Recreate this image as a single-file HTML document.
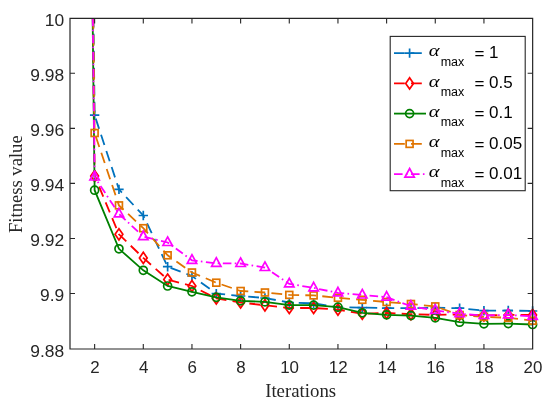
<!DOCTYPE html>
<html><head><meta charset="utf-8"><style>
html,body{margin:0;padding:0;background:#fff;}
svg{display:block;}
</style></head><body>
<svg width="550" height="412" viewBox="0 0 550 412">
<rect width="550" height="412" fill="#fff"/>
<defs><clipPath id="ax"><rect x="70.3" y="18.2" width="462.3" height="330.40000000000003"/></clipPath></defs>
<polyline points="70.30,-1909.13 94.63,115.20 118.96,189.40 143.29,215.50 167.63,266.70 191.96,276.00 216.29,293.60 240.62,296.00 264.95,298.00 289.28,302.50 313.62,303.40 337.95,307.20 362.28,307.60 386.61,308.10 410.94,308.20 435.27,307.70 459.61,308.20 483.94,310.70 508.27,310.50 532.60,311.00" stroke="#0072BD" stroke-width="1.8" fill="none" stroke-dasharray="10.8 6.2" stroke-dashoffset="11.92" clip-path="url(#ax)"/>
<path d="M89.93 115.20H99.33M94.63 110.50V119.90" stroke="#0072BD" stroke-width="1.7" fill="none"/>
<path d="M114.26 189.40H123.66M118.96 184.70V194.10" stroke="#0072BD" stroke-width="1.7" fill="none"/>
<path d="M138.59 215.50H147.99M143.29 210.80V220.20" stroke="#0072BD" stroke-width="1.7" fill="none"/>
<path d="M162.93 266.70H172.33M167.63 262.00V271.40" stroke="#0072BD" stroke-width="1.7" fill="none"/>
<path d="M187.26 276.00H196.66M191.96 271.30V280.70" stroke="#0072BD" stroke-width="1.7" fill="none"/>
<path d="M211.59 293.60H220.99M216.29 288.90V298.30" stroke="#0072BD" stroke-width="1.7" fill="none"/>
<path d="M235.92 296.00H245.32M240.62 291.30V300.70" stroke="#0072BD" stroke-width="1.7" fill="none"/>
<path d="M260.25 298.00H269.65M264.95 293.30V302.70" stroke="#0072BD" stroke-width="1.7" fill="none"/>
<path d="M284.58 302.50H293.98M289.28 297.80V307.20" stroke="#0072BD" stroke-width="1.7" fill="none"/>
<path d="M308.92 303.40H318.32M313.62 298.70V308.10" stroke="#0072BD" stroke-width="1.7" fill="none"/>
<path d="M333.25 307.20H342.65M337.95 302.50V311.90" stroke="#0072BD" stroke-width="1.7" fill="none"/>
<path d="M357.58 307.60H366.98M362.28 302.90V312.30" stroke="#0072BD" stroke-width="1.7" fill="none"/>
<path d="M381.91 308.10H391.31M386.61 303.40V312.80" stroke="#0072BD" stroke-width="1.7" fill="none"/>
<path d="M406.24 308.20H415.64M410.94 303.50V312.90" stroke="#0072BD" stroke-width="1.7" fill="none"/>
<path d="M430.57 307.70H439.97M435.27 303.00V312.40" stroke="#0072BD" stroke-width="1.7" fill="none"/>
<path d="M454.91 308.20H464.31M459.61 303.50V312.90" stroke="#0072BD" stroke-width="1.7" fill="none"/>
<path d="M479.24 310.70H488.64M483.94 306.00V315.40" stroke="#0072BD" stroke-width="1.7" fill="none"/>
<path d="M503.57 310.50H512.97M508.27 305.80V315.20" stroke="#0072BD" stroke-width="1.7" fill="none"/>
<path d="M527.90 311.00H537.30M532.60 306.30V315.70" stroke="#0072BD" stroke-width="1.7" fill="none"/>
<polyline points="70.30,-1909.13 94.63,176.00 118.96,234.30 143.29,257.90 167.63,279.50 191.96,286.00 216.29,298.50 240.62,302.50 264.95,305.30 289.28,308.00 313.62,308.00 337.95,309.60 362.28,313.70 386.61,313.00 410.94,314.20 435.27,314.90 459.61,314.50 483.94,315.40 508.27,314.90 532.60,314.90" stroke="#FF0000" stroke-width="1.8" fill="none" stroke-dasharray="10.8 6.2" stroke-dashoffset="11.12" clip-path="url(#ax)"/>
<path d="M94.63 170.40L98.53 176.00L94.63 181.60L90.73 176.00Z" stroke="#FF0000" stroke-width="1.7" fill="none"/>
<path d="M118.96 228.70L122.86 234.30L118.96 239.90L115.06 234.30Z" stroke="#FF0000" stroke-width="1.7" fill="none"/>
<path d="M143.29 252.30L147.19 257.90L143.29 263.50L139.39 257.90Z" stroke="#FF0000" stroke-width="1.7" fill="none"/>
<path d="M167.63 273.90L171.53 279.50L167.63 285.10L163.73 279.50Z" stroke="#FF0000" stroke-width="1.7" fill="none"/>
<path d="M191.96 280.40L195.86 286.00L191.96 291.60L188.06 286.00Z" stroke="#FF0000" stroke-width="1.7" fill="none"/>
<path d="M216.29 292.90L220.19 298.50L216.29 304.10L212.39 298.50Z" stroke="#FF0000" stroke-width="1.7" fill="none"/>
<path d="M240.62 296.90L244.52 302.50L240.62 308.10L236.72 302.50Z" stroke="#FF0000" stroke-width="1.7" fill="none"/>
<path d="M264.95 299.70L268.85 305.30L264.95 310.90L261.05 305.30Z" stroke="#FF0000" stroke-width="1.7" fill="none"/>
<path d="M289.28 302.40L293.18 308.00L289.28 313.60L285.38 308.00Z" stroke="#FF0000" stroke-width="1.7" fill="none"/>
<path d="M313.62 302.40L317.52 308.00L313.62 313.60L309.72 308.00Z" stroke="#FF0000" stroke-width="1.7" fill="none"/>
<path d="M337.95 304.00L341.85 309.60L337.95 315.20L334.05 309.60Z" stroke="#FF0000" stroke-width="1.7" fill="none"/>
<path d="M362.28 308.10L366.18 313.70L362.28 319.30L358.38 313.70Z" stroke="#FF0000" stroke-width="1.7" fill="none"/>
<path d="M386.61 307.40L390.51 313.00L386.61 318.60L382.71 313.00Z" stroke="#FF0000" stroke-width="1.7" fill="none"/>
<path d="M410.94 308.60L414.84 314.20L410.94 319.80L407.04 314.20Z" stroke="#FF0000" stroke-width="1.7" fill="none"/>
<path d="M435.27 309.30L439.17 314.90L435.27 320.50L431.37 314.90Z" stroke="#FF0000" stroke-width="1.7" fill="none"/>
<path d="M459.61 308.90L463.51 314.50L459.61 320.10L455.71 314.50Z" stroke="#FF0000" stroke-width="1.7" fill="none"/>
<path d="M483.94 309.80L487.84 315.40L483.94 321.00L480.04 315.40Z" stroke="#FF0000" stroke-width="1.7" fill="none"/>
<path d="M508.27 309.30L512.17 314.90L508.27 320.50L504.37 314.90Z" stroke="#FF0000" stroke-width="1.7" fill="none"/>
<path d="M532.60 309.30L536.50 314.90L532.60 320.50L528.70 314.90Z" stroke="#FF0000" stroke-width="1.7" fill="none"/>
<polyline points="70.30,-1909.13 94.63,190.20 118.96,248.80 143.29,270.30 167.63,286.00 191.96,291.80 216.29,297.30 240.62,300.80 264.95,301.90 289.28,305.10 313.62,305.10 337.95,307.20 362.28,312.80 386.61,314.80 410.94,315.60 435.27,317.80 459.61,322.20 483.94,323.80 508.27,323.60 532.60,324.50" stroke="#008000" stroke-width="1.8" fill="none" clip-path="url(#ax)"/>
<circle cx="94.63" cy="190.20" r="4.0" stroke="#008000" stroke-width="1.7" fill="none"/>
<circle cx="118.96" cy="248.80" r="4.0" stroke="#008000" stroke-width="1.7" fill="none"/>
<circle cx="143.29" cy="270.30" r="4.0" stroke="#008000" stroke-width="1.7" fill="none"/>
<circle cx="167.63" cy="286.00" r="4.0" stroke="#008000" stroke-width="1.7" fill="none"/>
<circle cx="191.96" cy="291.80" r="4.0" stroke="#008000" stroke-width="1.7" fill="none"/>
<circle cx="216.29" cy="297.30" r="4.0" stroke="#008000" stroke-width="1.7" fill="none"/>
<circle cx="240.62" cy="300.80" r="4.0" stroke="#008000" stroke-width="1.7" fill="none"/>
<circle cx="264.95" cy="301.90" r="4.0" stroke="#008000" stroke-width="1.7" fill="none"/>
<circle cx="289.28" cy="305.10" r="4.0" stroke="#008000" stroke-width="1.7" fill="none"/>
<circle cx="313.62" cy="305.10" r="4.0" stroke="#008000" stroke-width="1.7" fill="none"/>
<circle cx="337.95" cy="307.20" r="4.0" stroke="#008000" stroke-width="1.7" fill="none"/>
<circle cx="362.28" cy="312.80" r="4.0" stroke="#008000" stroke-width="1.7" fill="none"/>
<circle cx="386.61" cy="314.80" r="4.0" stroke="#008000" stroke-width="1.7" fill="none"/>
<circle cx="410.94" cy="315.60" r="4.0" stroke="#008000" stroke-width="1.7" fill="none"/>
<circle cx="435.27" cy="317.80" r="4.0" stroke="#008000" stroke-width="1.7" fill="none"/>
<circle cx="459.61" cy="322.20" r="4.0" stroke="#008000" stroke-width="1.7" fill="none"/>
<circle cx="483.94" cy="323.80" r="4.0" stroke="#008000" stroke-width="1.7" fill="none"/>
<circle cx="508.27" cy="323.60" r="4.0" stroke="#008000" stroke-width="1.7" fill="none"/>
<circle cx="532.60" cy="324.50" r="4.0" stroke="#008000" stroke-width="1.7" fill="none"/>
<polyline points="70.30,-1909.13 94.63,133.00 118.96,205.40 143.29,228.20 167.63,255.30 191.96,272.50 216.29,282.70 240.62,291.00 264.95,292.50 289.28,294.90 313.62,295.40 337.95,297.80 362.28,299.80 386.61,302.00 410.94,304.00 435.27,306.40 459.61,315.00 483.94,316.80 508.27,317.80 532.60,320.70" stroke="#E07400" stroke-width="1.8" fill="none" stroke-dasharray="10.8 6.2" stroke-dashoffset="10.82" clip-path="url(#ax)"/>
<rect x="91.18" y="129.55" width="6.90" height="6.90" stroke="#E07400" stroke-width="1.7" fill="none"/>
<rect x="115.51" y="201.95" width="6.90" height="6.90" stroke="#E07400" stroke-width="1.7" fill="none"/>
<rect x="139.84" y="224.75" width="6.90" height="6.90" stroke="#E07400" stroke-width="1.7" fill="none"/>
<rect x="164.18" y="251.85" width="6.90" height="6.90" stroke="#E07400" stroke-width="1.7" fill="none"/>
<rect x="188.51" y="269.05" width="6.90" height="6.90" stroke="#E07400" stroke-width="1.7" fill="none"/>
<rect x="212.84" y="279.25" width="6.90" height="6.90" stroke="#E07400" stroke-width="1.7" fill="none"/>
<rect x="237.17" y="287.55" width="6.90" height="6.90" stroke="#E07400" stroke-width="1.7" fill="none"/>
<rect x="261.50" y="289.05" width="6.90" height="6.90" stroke="#E07400" stroke-width="1.7" fill="none"/>
<rect x="285.83" y="291.45" width="6.90" height="6.90" stroke="#E07400" stroke-width="1.7" fill="none"/>
<rect x="310.17" y="291.95" width="6.90" height="6.90" stroke="#E07400" stroke-width="1.7" fill="none"/>
<rect x="334.50" y="294.35" width="6.90" height="6.90" stroke="#E07400" stroke-width="1.7" fill="none"/>
<rect x="358.83" y="296.35" width="6.90" height="6.90" stroke="#E07400" stroke-width="1.7" fill="none"/>
<rect x="383.16" y="298.55" width="6.90" height="6.90" stroke="#E07400" stroke-width="1.7" fill="none"/>
<rect x="407.49" y="300.55" width="6.90" height="6.90" stroke="#E07400" stroke-width="1.7" fill="none"/>
<rect x="431.82" y="302.95" width="6.90" height="6.90" stroke="#E07400" stroke-width="1.7" fill="none"/>
<rect x="456.16" y="311.55" width="6.90" height="6.90" stroke="#E07400" stroke-width="1.7" fill="none"/>
<rect x="480.49" y="313.35" width="6.90" height="6.90" stroke="#E07400" stroke-width="1.7" fill="none"/>
<rect x="504.82" y="314.35" width="6.90" height="6.90" stroke="#E07400" stroke-width="1.7" fill="none"/>
<rect x="529.15" y="317.25" width="6.90" height="6.90" stroke="#E07400" stroke-width="1.7" fill="none"/>
<polyline points="70.30,-1909.13 94.63,177.00 118.96,213.90 143.29,236.60 167.63,242.50 191.96,260.30 216.29,263.30 240.62,263.50 264.95,267.50 289.28,283.90 313.62,287.90 337.95,292.90 362.28,295.00 386.61,297.20 410.94,306.20 435.27,310.40 459.61,313.70 483.94,315.50 508.27,314.90 532.60,316.40" stroke="#FF00FF" stroke-width="1.8" fill="none" stroke-dasharray="8.6 3.3 1.6 3.5" stroke-dashoffset="11.02" clip-path="url(#ax)"/>
<path d="M94.63 171.40L99.33 180.00L89.93 180.00Z" stroke="#FF00FF" stroke-width="1.7" fill="none" stroke-linejoin="miter"/>
<path d="M118.96 208.30L123.66 216.90L114.26 216.90Z" stroke="#FF00FF" stroke-width="1.7" fill="none" stroke-linejoin="miter"/>
<path d="M143.29 231.00L147.99 239.60L138.59 239.60Z" stroke="#FF00FF" stroke-width="1.7" fill="none" stroke-linejoin="miter"/>
<path d="M167.63 236.90L172.33 245.50L162.93 245.50Z" stroke="#FF00FF" stroke-width="1.7" fill="none" stroke-linejoin="miter"/>
<path d="M191.96 254.70L196.66 263.30L187.26 263.30Z" stroke="#FF00FF" stroke-width="1.7" fill="none" stroke-linejoin="miter"/>
<path d="M216.29 257.70L220.99 266.30L211.59 266.30Z" stroke="#FF00FF" stroke-width="1.7" fill="none" stroke-linejoin="miter"/>
<path d="M240.62 257.90L245.32 266.50L235.92 266.50Z" stroke="#FF00FF" stroke-width="1.7" fill="none" stroke-linejoin="miter"/>
<path d="M264.95 261.90L269.65 270.50L260.25 270.50Z" stroke="#FF00FF" stroke-width="1.7" fill="none" stroke-linejoin="miter"/>
<path d="M289.28 278.30L293.98 286.90L284.58 286.90Z" stroke="#FF00FF" stroke-width="1.7" fill="none" stroke-linejoin="miter"/>
<path d="M313.62 282.30L318.32 290.90L308.92 290.90Z" stroke="#FF00FF" stroke-width="1.7" fill="none" stroke-linejoin="miter"/>
<path d="M337.95 287.30L342.65 295.90L333.25 295.90Z" stroke="#FF00FF" stroke-width="1.7" fill="none" stroke-linejoin="miter"/>
<path d="M362.28 289.40L366.98 298.00L357.58 298.00Z" stroke="#FF00FF" stroke-width="1.7" fill="none" stroke-linejoin="miter"/>
<path d="M386.61 291.60L391.31 300.20L381.91 300.20Z" stroke="#FF00FF" stroke-width="1.7" fill="none" stroke-linejoin="miter"/>
<path d="M410.94 300.60L415.64 309.20L406.24 309.20Z" stroke="#FF00FF" stroke-width="1.7" fill="none" stroke-linejoin="miter"/>
<path d="M435.27 304.80L439.97 313.40L430.57 313.40Z" stroke="#FF00FF" stroke-width="1.7" fill="none" stroke-linejoin="miter"/>
<path d="M459.61 308.10L464.31 316.70L454.91 316.70Z" stroke="#FF00FF" stroke-width="1.7" fill="none" stroke-linejoin="miter"/>
<path d="M483.94 309.90L488.64 318.50L479.24 318.50Z" stroke="#FF00FF" stroke-width="1.7" fill="none" stroke-linejoin="miter"/>
<path d="M508.27 309.30L512.97 317.90L503.57 317.90Z" stroke="#FF00FF" stroke-width="1.7" fill="none" stroke-linejoin="miter"/>
<path d="M532.60 310.80L537.30 319.40L527.90 319.40Z" stroke="#FF00FF" stroke-width="1.7" fill="none" stroke-linejoin="miter"/>
<path d="M70.0 18.45H532.65V349.0H70.0Z" fill="none" stroke="#262626" stroke-width="1.2"/>
<path d="M94.63 349.00V344.00M94.63 18.45V23.45M143.29 349.00V344.00M143.29 18.45V23.45M191.96 349.00V344.00M191.96 18.45V23.45M240.62 349.00V344.00M240.62 18.45V23.45M289.28 349.00V344.00M289.28 18.45V23.45M337.95 349.00V344.00M337.95 18.45V23.45M386.61 349.00V344.00M386.61 18.45V23.45M435.27 349.00V344.00M435.27 18.45V23.45M483.94 349.00V344.00M483.94 18.45V23.45M70.00 293.53H75.00M532.65 293.53H527.65M70.00 238.47H75.00M532.65 238.47H527.65M70.00 183.40H75.00M532.65 183.40H527.65M70.00 128.33H75.00M532.65 128.33H527.65M70.00 73.27H75.00M532.65 73.27H527.65" stroke="#262626" stroke-width="1.1" fill="none"/>
<text transform="translate(64.2 356.50) scale(1.09 1)" text-anchor="end" style="font-family:'Liberation Sans',Arial,sans-serif;font-size:16px" fill="#262626">9.88</text>
<text transform="translate(64.2 301.43) scale(1.09 1)" text-anchor="end" style="font-family:'Liberation Sans',Arial,sans-serif;font-size:16px" fill="#262626">9.9</text>
<text transform="translate(64.2 246.37) scale(1.09 1)" text-anchor="end" style="font-family:'Liberation Sans',Arial,sans-serif;font-size:16px" fill="#262626">9.92</text>
<text transform="translate(64.2 191.30) scale(1.09 1)" text-anchor="end" style="font-family:'Liberation Sans',Arial,sans-serif;font-size:16px" fill="#262626">9.94</text>
<text transform="translate(64.2 136.23) scale(1.09 1)" text-anchor="end" style="font-family:'Liberation Sans',Arial,sans-serif;font-size:16px" fill="#262626">9.96</text>
<text transform="translate(64.2 81.17) scale(1.09 1)" text-anchor="end" style="font-family:'Liberation Sans',Arial,sans-serif;font-size:16px" fill="#262626">9.98</text>
<text transform="translate(64.2 26.10) scale(1.09 1)" text-anchor="end" style="font-family:'Liberation Sans',Arial,sans-serif;font-size:16px" fill="#262626">10</text>
<text transform="translate(94.93 373.3) scale(1.06 1)" text-anchor="middle" style="font-family:'Liberation Sans',Arial,sans-serif;font-size:16px" fill="#262626">2</text>
<text transform="translate(143.59 373.3) scale(1.06 1)" text-anchor="middle" style="font-family:'Liberation Sans',Arial,sans-serif;font-size:16px" fill="#262626">4</text>
<text transform="translate(192.26 373.3) scale(1.06 1)" text-anchor="middle" style="font-family:'Liberation Sans',Arial,sans-serif;font-size:16px" fill="#262626">6</text>
<text transform="translate(240.92 373.3) scale(1.06 1)" text-anchor="middle" style="font-family:'Liberation Sans',Arial,sans-serif;font-size:16px" fill="#262626">8</text>
<text transform="translate(289.58 373.3) scale(1.06 1)" text-anchor="middle" style="font-family:'Liberation Sans',Arial,sans-serif;font-size:16px" fill="#262626">10</text>
<text transform="translate(338.25 373.3) scale(1.06 1)" text-anchor="middle" style="font-family:'Liberation Sans',Arial,sans-serif;font-size:16px" fill="#262626">12</text>
<text transform="translate(386.91 373.3) scale(1.06 1)" text-anchor="middle" style="font-family:'Liberation Sans',Arial,sans-serif;font-size:16px" fill="#262626">14</text>
<text transform="translate(435.57 373.3) scale(1.06 1)" text-anchor="middle" style="font-family:'Liberation Sans',Arial,sans-serif;font-size:16px" fill="#262626">16</text>
<text transform="translate(484.24 373.3) scale(1.06 1)" text-anchor="middle" style="font-family:'Liberation Sans',Arial,sans-serif;font-size:16px" fill="#262626">18</text>
<text transform="translate(532.90 373.3) scale(1.06 1)" text-anchor="middle" style="font-family:'Liberation Sans',Arial,sans-serif;font-size:16px" fill="#262626">20</text>
<text transform="translate(300.6 397.2) scale(1.045 1)" text-anchor="middle" style="font-family:'Liberation Serif','Times New Roman',serif;font-size:18px" fill="#262626">Iterations</text>
<text transform="translate(22.0 184.2) rotate(-90) scale(1.035 1)" x="0" y="0" text-anchor="middle" style="font-family:'Liberation Serif','Times New Roman',serif;font-size:18px" fill="#262626">Fitness value</text>
<rect x="390.2" y="36.4" width="135.00" height="154.30" fill="#fff" stroke="#262626" stroke-width="1.1"/>
<path d="M394 53.1H426" stroke="#0072BD" stroke-width="1.8" fill="none" stroke-dasharray="10.8 6.2"/>
<path d="M404.90 53.10H414.30M409.60 48.40V57.80" stroke="#0072BD" stroke-width="1.7" fill="none"/>
<text transform="translate(428.8 56.40) scale(1.25 1)" style="font-family:'Liberation Serif','Times New Roman',serif;font-style:italic;font-size:16.5px" fill="#000">α</text>
<text transform="translate(440.7 65.70) scale(1.0 1)" style="font-family:'Liberation Sans',Arial,sans-serif;font-size:12.5px" fill="#000">max</text>
<text x="474.4" y="58.70" style="font-family:'Liberation Sans',Arial,sans-serif;font-size:17px" fill="#000">=</text>
<text x="489.0" y="57.70" style="font-family:'Liberation Sans',Arial,sans-serif;font-size:17px" fill="#000">1</text>
<path d="M394 83.4H426" stroke="#FF0000" stroke-width="1.8" fill="none" stroke-dasharray="10.8 6.2"/>
<path d="M409.60 77.80L413.50 83.40L409.60 89.00L405.70 83.40Z" stroke="#FF0000" stroke-width="1.7" fill="none"/>
<text transform="translate(428.8 86.70) scale(1.25 1)" style="font-family:'Liberation Serif','Times New Roman',serif;font-style:italic;font-size:16.5px" fill="#000">α</text>
<text transform="translate(440.7 96.00) scale(1.0 1)" style="font-family:'Liberation Sans',Arial,sans-serif;font-size:12.5px" fill="#000">max</text>
<text x="474.4" y="89.00" style="font-family:'Liberation Sans',Arial,sans-serif;font-size:17px" fill="#000">=</text>
<text x="489.0" y="88.00" style="font-family:'Liberation Sans',Arial,sans-serif;font-size:17px" fill="#000">0.5</text>
<path d="M394 113.6H426" stroke="#008000" stroke-width="1.8" fill="none"/>
<circle cx="409.60" cy="113.60" r="4.0" stroke="#008000" stroke-width="1.7" fill="none"/>
<text transform="translate(428.8 116.90) scale(1.25 1)" style="font-family:'Liberation Serif','Times New Roman',serif;font-style:italic;font-size:16.5px" fill="#000">α</text>
<text transform="translate(440.7 126.20) scale(1.0 1)" style="font-family:'Liberation Sans',Arial,sans-serif;font-size:12.5px" fill="#000">max</text>
<text x="474.4" y="119.20" style="font-family:'Liberation Sans',Arial,sans-serif;font-size:17px" fill="#000">=</text>
<text x="489.0" y="118.20" style="font-family:'Liberation Sans',Arial,sans-serif;font-size:17px" fill="#000">0.1</text>
<path d="M394 143.9H426" stroke="#E07400" stroke-width="1.8" fill="none" stroke-dasharray="10.8 6.2"/>
<rect x="406.15" y="140.45" width="6.90" height="6.90" stroke="#E07400" stroke-width="1.7" fill="none"/>
<text transform="translate(428.8 147.20) scale(1.25 1)" style="font-family:'Liberation Serif','Times New Roman',serif;font-style:italic;font-size:16.5px" fill="#000">α</text>
<text transform="translate(440.7 156.50) scale(1.0 1)" style="font-family:'Liberation Sans',Arial,sans-serif;font-size:12.5px" fill="#000">max</text>
<text x="474.4" y="149.50" style="font-family:'Liberation Sans',Arial,sans-serif;font-size:17px" fill="#000">=</text>
<text x="489.0" y="148.50" style="font-family:'Liberation Sans',Arial,sans-serif;font-size:17px" fill="#000">0.05</text>
<path d="M394 174.1H426" stroke="#FF00FF" stroke-width="1.8" fill="none" stroke-dasharray="8.6 3.3 1.6 3.5"/>
<path d="M409.60 168.50L414.30 177.10L404.90 177.10Z" stroke="#FF00FF" stroke-width="1.7" fill="none" stroke-linejoin="miter"/>
<text transform="translate(428.8 177.40) scale(1.25 1)" style="font-family:'Liberation Serif','Times New Roman',serif;font-style:italic;font-size:16.5px" fill="#000">α</text>
<text transform="translate(440.7 186.70) scale(1.0 1)" style="font-family:'Liberation Sans',Arial,sans-serif;font-size:12.5px" fill="#000">max</text>
<text x="474.4" y="179.70" style="font-family:'Liberation Sans',Arial,sans-serif;font-size:17px" fill="#000">=</text>
<text x="489.0" y="178.70" style="font-family:'Liberation Sans',Arial,sans-serif;font-size:17px" fill="#000">0.01</text>
</svg>
</body></html>
